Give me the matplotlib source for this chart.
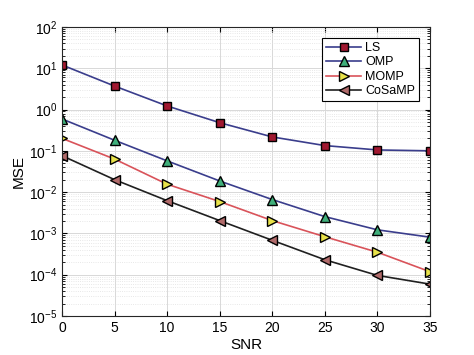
import numpy as np
import matplotlib
matplotlib.use('Agg')
import matplotlib.pyplot as plt

snr = [0, 5, 10, 15, 20, 25, 30, 35]

mse_ls = [12.0, 3.7, 1.22, 0.48, 0.217, 0.134, 0.105, 0.100]
mse_omp = [0.59, 0.18, 0.057, 0.0186, 0.0066, 0.00255, 0.00122, 0.00081]
mse_momp = [0.20, 0.063, 0.0155, 0.0059, 0.00204, 0.00083, 0.00035, 0.000118]
mse_cosamp = [0.076, 0.020, 0.0062, 0.00204, 0.00068, 0.00023, 0.000096, 0.000059]

plt.rcParams['font.family'] = ['Liberation Sans', 'DejaVu Sans']

fig = plt.figure(figsize=(4.74, 3.55), dpi=100)
ax = fig.add_axes([0.131, 0.110, 0.776, 0.814])

ax.semilogy(snr, mse_ls, '-s', color='#3a3d8c', mfc='#a01830', mec='black',
            ms=5.5, lw=1.2, label='LS')
ax.semilogy(snr, mse_omp, '-^', color='#3a3d8c', mfc='#3fae7a', mec='black',
            ms=6.5, lw=1.2, label='OMP')
ax.semilogy(snr, mse_momp, '->', color='#d9535a', mfc='#e8e24a', mec='black',
            ms=6.5, lw=1.2, label='MOMP')
ax.semilogy(snr, mse_cosamp, '-<', color='#202020', mfc='#b06a6a', mec='black',
            ms=6.5, lw=1.2, label='CoSaMP')

ax.set_xlim(0, 35)
ax.set_ylim(1e-5, 1e2)
ax.set_xticks([0, 5, 10, 15, 20, 25, 30, 35])
ax.set_yticks([10.0 ** k for k in range(-5, 3)])

ax.grid(True, which='major', color='#d8d8d8', lw=0.7)
ax.grid(True, which='minor', color='#e0e0e0', lw=0.6, ls=':')
ax.tick_params(which='both', direction='in', top=True, right=True, labelsize=10)
for s in ax.spines.values():
    s.set_color('#262626')
    s.set_linewidth(0.8)

ax.set_xlabel('SNR', fontsize=11, labelpad=2)
ax.set_ylabel('MSE', fontsize=11, labelpad=2)

leg = ax.legend(loc='upper right', fontsize=9, fancybox=False, framealpha=1,
                edgecolor='black', handlelength=2.8, borderpad=0.3,
                labelspacing=0.2, handletextpad=0.3, borderaxespad=0.9)
leg.get_frame().set_linewidth(0.8)

fig.savefig('out.png', dpi=100)
